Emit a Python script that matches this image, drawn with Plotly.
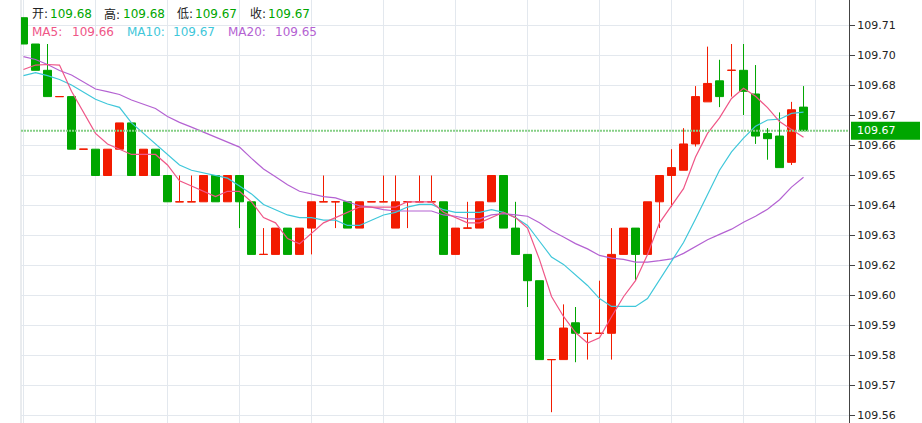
import plotly.graph_objects as go

# ---------------- data ----------------
opens = [109.71, 109.70, 109.69, 109.68, 109.68, 109.66, 109.66, 109.65, 109.66, 109.67,
         109.65, 109.66, 109.65, 109.64, 109.64, 109.64, 109.65, 109.64, 109.65, 109.64,
         109.62, 109.62, 109.63, 109.62, 109.63, 109.64, 109.64, 109.64, 109.63, 109.64,
         109.64, 109.63, 109.64, 109.64, 109.64, 109.64, 109.62, 109.63, 109.63, 109.64,
         109.65, 109.63, 109.62, 109.61, 109.58, 109.58, 109.594, 109.59, 109.59, 109.59,
         109.62, 109.63, 109.62, 109.64, 109.65, 109.652, 109.662, 109.678, 109.686, 109.69,
         109.69, 109.681, 109.666, 109.665, 109.655, 109.676]
highs = [109.71, 109.70, 109.70, 109.68, 109.68, 109.66, 109.66, 109.66, 109.67, 109.67,
         109.66, 109.66, 109.65, 109.65, 109.65, 109.65, 109.65, 109.65, 109.65, 109.64,
         109.63, 109.63, 109.63, 109.63, 109.64, 109.65, 109.64, 109.64, 109.64, 109.64,
         109.65, 109.65, 109.64, 109.65, 109.65, 109.64, 109.63, 109.64, 109.64, 109.65,
         109.65, 109.64, 109.62, 109.61, 109.58, 109.601, 109.600, 109.59, 109.61, 109.63,
         109.63, 109.63, 109.64, 109.65, 109.660, 109.668, 109.684, 109.699, 109.694, 109.70,
         109.70, 109.692, 109.668, 109.674, 109.678, 109.684]
lows = [109.70, 109.69, 109.68, 109.68, 109.66, 109.66, 109.65, 109.65, 109.66, 109.65,
        109.65, 109.65, 109.64, 109.64, 109.64, 109.64, 109.64, 109.64, 109.63, 109.62,
        109.62, 109.62, 109.62, 109.62, 109.62, 109.64, 109.63, 109.63, 109.63, 109.64,
        109.64, 109.63, 109.63, 109.64, 109.64, 109.62, 109.62, 109.63, 109.63, 109.64,
        109.63, 109.62, 109.60, 109.58, 109.56, 109.58, 109.579, 109.58, 109.59, 109.58,
        109.62, 109.61, 109.62, 109.63, 109.638, 109.652, 109.661, 109.678, 109.676, 109.68,
        109.673, 109.662, 109.656, 109.653, 109.654, 109.667]
closes = [109.70, 109.69, 109.68, 109.68, 109.66, 109.66, 109.65, 109.66, 109.67, 109.65,
          109.66, 109.65, 109.64, 109.64, 109.64, 109.65, 109.64, 109.65, 109.64, 109.62,
          109.62, 109.63, 109.62, 109.63, 109.64, 109.64, 109.64, 109.63, 109.64, 109.64,
          109.64, 109.64, 109.64, 109.64, 109.64, 109.62, 109.63, 109.63, 109.64, 109.65,
          109.63, 109.62, 109.61, 109.58, 109.58, 109.592, 109.590, 109.59, 109.59, 109.62,
          109.63, 109.62, 109.64, 109.65, 109.653, 109.662, 109.680, 109.685, 109.680, 109.69,
          109.682, 109.665, 109.664, 109.653, 109.675, 109.667]

ma5 = [109.6903, 109.6920, 109.6922, 109.6920, 109.6820, 109.6740, 109.6660, 109.6620, 109.6600, 109.6580,
       109.6580, 109.6580, 109.6540, 109.6480, 109.6460, 109.6440, 109.6420, 109.6440, 109.6440, 109.6400,
       109.6340, 109.6320, 109.6260, 109.6240, 109.6280, 109.6320, 109.6340, 109.6360, 109.6380, 109.6380,
       109.6380, 109.6380, 109.6400, 109.6400, 109.6400, 109.6360, 109.6340, 109.6320, 109.6320, 109.6340,
       109.6360, 109.6340, 109.6300, 109.6180, 109.6040, 109.5964, 109.5903, 109.5863, 109.5883, 109.5963,
       109.6039, 109.6100, 109.6200, 109.6320, 109.6386, 109.6450, 109.6570, 109.6660, 109.6719, 109.6793,
       109.6832, 109.6801, 109.6758, 109.6705, 109.6675, 109.6645]
ma10 = [109.6880, 109.6891, 109.6880, 109.6865, 109.6844, 109.6817, 109.6790, 109.6772, 109.6759, 109.6700,
        109.6660, 109.6620, 109.6580, 109.6540, 109.6520, 109.6510, 109.6500, 109.6490, 109.6460, 109.6430,
        109.6390, 109.6370, 109.6350, 109.6340, 109.6340, 109.6330, 109.6330, 109.6310, 109.6310, 109.6330,
        109.6350, 109.6360, 109.6380, 109.6390, 109.6390, 109.6370, 109.6360, 109.6360, 109.6360, 109.6370,
        109.6360, 109.6340, 109.6310, 109.6250, 109.6190, 109.6162, 109.6122, 109.6082, 109.6032, 109.6002,
        109.6002, 109.6002, 109.6032, 109.6102, 109.6175, 109.6245, 109.6335, 109.6430, 109.6520, 109.6590,
        109.6642, 109.6687, 109.6711, 109.6714, 109.6736, 109.6741]
ma20 = [109.6952, 109.6941, 109.6922, 109.6899, 109.6882, 109.6854, 109.6829, 109.6819, 109.6808, 109.6787,
        109.6770, 109.6755, 109.6724, 109.6702, 109.6684, 109.6665, 109.6646, 109.6627, 109.6608, 109.6565,
        109.6525, 109.6495, 109.6465, 109.6440, 109.6430, 109.6420, 109.6415, 109.6400, 109.6385, 109.6380,
        109.6370, 109.6365, 109.6365, 109.6365, 109.6365, 109.6350, 109.6345, 109.6335, 109.6335, 109.6350,
        109.6355, 109.6350, 109.6345, 109.6320, 109.6290, 109.6266, 109.6241, 109.6221, 109.6196, 109.6186,
        109.6181, 109.6171, 109.6171, 109.6176, 109.6183, 109.6204, 109.6229, 109.6256, 109.6276, 109.6296,
        109.6322, 109.6345, 109.6372, 109.6408, 109.6456, 109.6493]

ohlc_labels = ["开:", "高:", "低:", "收:"]
ma_labels = ["MA5:", "MA10:", "MA20:"]

# ---------------- styling ----------------
RED = "#f21b00"
GREEN = "#00a600"
C_MA5 = "#ef5687"
C_MA10 = "#3fc7da"
C_MA20 = "#b462d2"
GRID = "#e3e8ee"
FONT = "DejaVu Sans, Noto Sans CJK SC, sans-serif"

W, H = 922, 423
ML, MR = 21, 73
PW = W - ML - MR

n = len(closes)
idx = list(range(n))
red_i = [i for i in idx if closes[i] >= opens[i]]
grn_i = [i for i in idx if closes[i] < opens[i]]


def candles(ids, color):
    style = dict(line=dict(color=color, width=1), fillcolor=color)
    return go.Candlestick(
        x=ids,
        open=[opens[i] for i in ids],
        high=[highs[i] for i in ids],
        low=[lows[i] for i in ids],
        close=[closes[i] for i in ids],
        increasing=style, decreasing=style,
        whiskerwidth=0, hoverinfo="skip", showlegend=False,
    )


fig = go.Figure()
fig.add_trace(candles(red_i, RED))
fig.add_trace(candles(grn_i, GREEN))
for vals, col in [(ma20, C_MA20), (ma10, C_MA10), (ma5, C_MA5)]:
    fig.add_trace(go.Scatter(x=idx, y=vals, mode="lines",
                             line=dict(color=col, width=1.2),
                             hoverinfo="skip", showlegend=False))

last = closes[-1]

# current price dotted line + label box
fig.add_shape(type="line", xref="paper", x0=0, x1=1, yref="y", y0=last, y1=last,
              line=dict(color="#86cf86", width=2, dash="2px,1px"), layer="above")
fig.add_shape(type="line", xref="paper", x0=0, x1=0, yref="paper", y0=0, y1=1,
              line=dict(color="#d4d9df", width=1), layer="below")

y_lo, y_hi = 109.555894, 109.716730
px_per_val = H / (y_hi - y_lo)
fig.add_shape(type="rect", xref="paper", x0=1 + 2 / PW, x1=1 + 71 / PW,
              yref="y", y0=last - 9 / px_per_val, y1=last + 9 / px_per_val,
              fillcolor=GREEN, line=dict(width=0), layer="above")
fig.add_annotation(xref="paper", x=1 + 7 / PW, xanchor="left", yref="y", y=last,
                   yanchor="middle", text=f"{last:.2f}", showarrow=False,
                   font=dict(family=FONT, size=11, color="white"), borderpad=0)

# header texts
def px_x(px):
    return (px - ML) / PW


def px_y(py):
    return 1 - py / H


ohlc_vals = [opens[-1], highs[-1], lows[-1], closes[-1]]
lab_x = [31, 103, 176, 249]
val_x = [49, 122, 194, 267]
for lab, v, lx, vx in zip(ohlc_labels, ohlc_vals, lab_x, val_x):
    fig.add_annotation(xref="paper", yref="paper", x=px_x(lx), y=px_y(14), xanchor="left",
                       yanchor="middle", text=lab, showarrow=False, borderpad=0,
                       font=dict(family=FONT, size=12, color="#222222"))
    fig.add_annotation(xref="paper", yref="paper", x=px_x(vx), y=px_y(14), xanchor="left",
                       yanchor="middle", text=f"{v:.2f}", showarrow=False, borderpad=0,
                       font=dict(family=FONT, size=12, color=GREEN))

ma_vals = [ma5[-1], ma10[-1], ma20[-1]]
ma_cols = [C_MA5, C_MA10, C_MA20]
ma_lx = [31, 126, 227]
ma_vx = [71, 172, 274]
for lab, v, col, lx, vx in zip(ma_labels, ma_vals, ma_cols, ma_lx, ma_vx):
    fig.add_annotation(xref="paper", yref="paper", x=px_x(lx), y=px_y(32.5), xanchor="left",
                       yanchor="middle", text=lab, showarrow=False, borderpad=0,
                       font=dict(family=FONT, size=12, color=col))
    fig.add_annotation(xref="paper", yref="paper", x=px_x(vx), y=px_y(32.5), xanchor="left",
                       yanchor="middle", text=f"{v:.2f}", showarrow=False, borderpad=0,
                       font=dict(family=FONT, size=12, color=col))

fig.update_layout(
    width=W, height=H,
    margin=dict(l=ML, r=MR, t=0, b=0),
    paper_bgcolor="white", plot_bgcolor="white",
    boxgap=1 / 3, boxgroupgap=0, boxmode="overlay",
    showlegend=False,
    xaxis=dict(range=[-0.2083, 68.79], rangeslider=dict(visible=False),
               tickmode="linear", tick0=0, dtick=6, showticklabels=False,
               showgrid=True, gridcolor=GRID, gridwidth=1, zeroline=False,
               showline=False, ticks=""),
    yaxis=dict(range=[y_lo, y_hi], side="right",
               tickmode="linear", tick0=109.707224, dtick=0.0114068, tickformat=".2f",
               showgrid=True, gridcolor=GRID, gridwidth=1, zeroline=False,
               showline=True, linecolor="#444444", linewidth=1,
               ticks="outside", ticklen=5, tickcolor="#444444",
               tickfont=dict(family=FONT, size=11, color="#222222")),
)

fig.write_html("out.html")
